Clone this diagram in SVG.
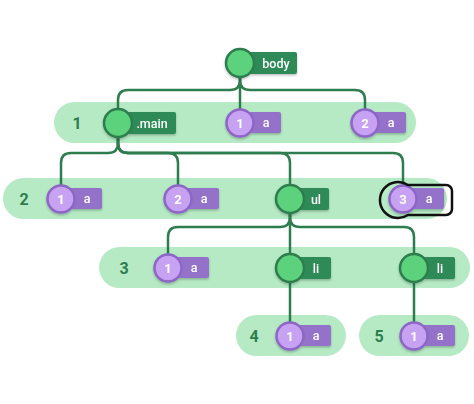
<svg xmlns="http://www.w3.org/2000/svg" width="474" height="404" viewBox="0 0 474 404">
<defs>
<filter id="sh" x="-30%" y="-30%" width="160%" height="170%">
<feDropShadow dx="0" dy="1.5" stdDeviation="1.2" flood-color="#000" flood-opacity="0.25"/>
</filter>
</defs>
<style>
.band{fill:#b5eac4}
.rowlbl{font-family:Roboto,"Liberation Sans",sans-serif;font-size:16px;font-weight:bold;fill:#2e7d4f;text-anchor:middle;dominant-baseline:central}
.edge{fill:none;stroke:#2e7d4f;stroke-width:2.5;stroke-linecap:round;stroke-linejoin:round}
.gc{fill:#5cd27b;stroke:#2e7d4f;stroke-width:2.5}
.gr{fill:#2f8a57}
.pc{fill:#c8a2f2;stroke:#8d66c6;stroke-width:2.5}
.pr{fill:#9572c9}
.t{font-family:Roboto,"Liberation Sans",sans-serif;font-size:12.5px;font-weight:500;fill:#ffffff;text-anchor:middle;dominant-baseline:central}
.n{font-family:Roboto,"Liberation Sans",sans-serif;font-size:13px;font-weight:bold;fill:#ffffff;text-anchor:middle;dominant-baseline:central}
</style>
<rect width="474" height="404" fill="#ffffff"/>
<g id="bands">
<rect class="band" x="54" y="102" width="362" height="41" rx="20.5"/>
<rect class="band" x="3" y="178" width="444" height="41" rx="20.5"/>
<rect class="band" x="99" y="247" width="371" height="41" rx="20.5"/>
<rect class="band" x="236" y="315" width="110" height="41" rx="20.5"/>
<rect class="band" x="359" y="315" width="110" height="41" rx="20.5"/>
<text class="rowlbl" x="77" y="123">1</text>
<text class="rowlbl" x="24" y="199">2</text>
<text class="rowlbl" x="124" y="268">3</text>
<text class="rowlbl" x="254" y="336">4</text>
<text class="rowlbl" x="379" y="336">5</text>
</g>
<g id="connectors">
<path class="edge" d="M240 63 V80 Q240 90 230 90 H128 Q118 90 118 100 V123"/>
<path class="edge" d="M240 63 V123"/>
<path class="edge" d="M240 63 V80 Q240 90 250 90 H355 Q365 90 365 100 V123"/>
<path class="edge" d="M118 123 V143 Q118 153 108 153 H71 Q61 153 61 163 V199"/>
<path class="edge" d="M118 123 V143 Q118 153 128 153 H168 Q178 153 178 163 V199"/>
<path class="edge" d="M118 123 V143 Q118 153 128 153 H280 Q290 153 290 163 V199"/>
<path class="edge" d="M118 123 V143 Q118 153 128 153 H393 Q403 153 403 163 V199"/>
<path class="edge" d="M290 199 V217 Q290 227 280 227 H178 Q168 227 168 237 V268"/>
<path class="edge" d="M290 199 V336"/>
<path class="edge" d="M290 199 V217 Q290 227 300 227 H404 Q414 227 414 237 V336"/>
</g>
<g id="body" filter="url(#sh)">
<rect class="gr" x="245" y="52" width="52" height="22" rx="2"/>
<circle class="gc" cx="240" cy="63" r="14"/>
<text class="t" x="276" y="63">body</text>
</g>
<g id="main" filter="url(#sh)">
<rect class="gr" x="123" y="112" width="53" height="22" rx="2"/>
<circle class="gc" cx="118" cy="123" r="14"/>
<text class="t" x="152" y="123">.main</text>
</g>
<g id="r1a1" filter="url(#sh)">
<rect class="pr" x="245" y="112" width="36" height="21" rx="2"/>
<circle class="pc" cx="240" cy="123" r="13.5"/>
<text class="n" x="240" y="123">1</text>
<text class="t" x="266" y="122.5">a</text>
</g>
<g id="r1a2" filter="url(#sh)">
<rect class="pr" x="370" y="112" width="36" height="21" rx="2"/>
<circle class="pc" cx="365" cy="123" r="13.5"/>
<text class="n" x="365" y="123">2</text>
<text class="t" x="391" y="122.5">a</text>
</g>
<g id="r2a1" filter="url(#sh)">
<rect class="pr" x="66" y="188" width="36" height="21" rx="2"/>
<circle class="pc" cx="61" cy="199" r="13.5"/>
<text class="n" x="61" y="199">1</text>
<text class="t" x="87" y="198.5">a</text>
</g>
<g id="r2a2" filter="url(#sh)">
<rect class="pr" x="183" y="188" width="36" height="21" rx="2"/>
<circle class="pc" cx="178" cy="199" r="13.5"/>
<text class="n" x="178" y="199">2</text>
<text class="t" x="204" y="198.5">a</text>
</g>
<g id="ul" filter="url(#sh)">
<rect class="gr" x="295" y="188" width="34" height="22" rx="2"/>
<circle class="gc" cx="290" cy="199" r="14"/>
<text class="t" x="316" y="199">ul</text>
</g>
<g id="r2a3">
<g filter="url(#sh)">
<rect class="pr" x="408" y="188" width="36" height="21" rx="2"/>
<circle class="pc" cx="403" cy="199" r="13.5"/>
<text class="n" x="403" y="199">3</text>
<text class="t" x="429" y="198.5">a</text>
</g>
<path d="M407.9 185 H446 A6 6 0 0 1 452 191 V209 A6 6 0 0 1 446 215 H407.9 A18 18 0 1 1 407.9 185 Z" fill="none" stroke="#111" stroke-width="2.5"/>
</g>
<g id="r3a1" filter="url(#sh)">
<rect class="pr" x="173" y="257" width="36" height="21" rx="2"/>
<circle class="pc" cx="168" cy="268" r="13.5"/>
<text class="n" x="168" y="268">1</text>
<text class="t" x="194" y="267.5">a</text>
</g>
<g id="li1" filter="url(#sh)">
<rect class="gr" x="295" y="257" width="36" height="22" rx="2"/>
<circle class="gc" cx="290" cy="268" r="14"/>
<text class="t" x="316" y="268">li</text>
</g>
<g id="li2" filter="url(#sh)">
<rect class="gr" x="419" y="257" width="36" height="22" rx="2"/>
<circle class="gc" cx="414" cy="268" r="14"/>
<text class="t" x="440" y="268">li</text>
</g>
<g id="r4a1" filter="url(#sh)">
<rect class="pr" x="295" y="325" width="36" height="21" rx="2"/>
<circle class="pc" cx="290" cy="336" r="13.5"/>
<text class="n" x="290" y="336">1</text>
<text class="t" x="316" y="335.5">a</text>
</g>
<g id="r5a1" filter="url(#sh)">
<rect class="pr" x="419" y="325" width="36" height="21" rx="2"/>
<circle class="pc" cx="414" cy="336" r="13.5"/>
<text class="n" x="414" y="336">1</text>
<text class="t" x="440" y="335.5">a</text>
</g>
</svg>
